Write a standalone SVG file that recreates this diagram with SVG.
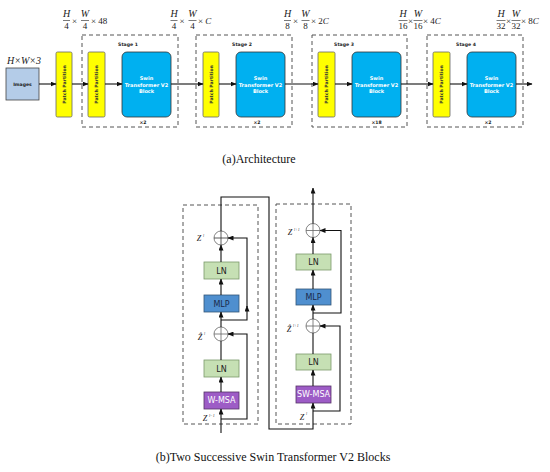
<svg xmlns="http://www.w3.org/2000/svg" width="550" height="472" viewBox="0 0 550 472">
<defs>
<marker id="ah" markerWidth="6" markerHeight="5" refX="5.5" refY="2.5" orient="auto" markerUnits="userSpaceOnUse">
<path d="M0,0 L6,2.5 L0,5 Z" fill="#111"/>
</marker>
<style>
.dash{fill:none;stroke:#555;stroke-width:1;stroke-dasharray:4,3}
.pp{fill:#ffff00;stroke:#666;stroke-width:0.8}
.sw{fill:#00b0f0;stroke:#333;stroke-width:0.8}
.img{fill:#b4cce8;stroke:#444;stroke-width:0.8}
.ln{fill:#c6e0b4;stroke:#7a9a6a;stroke-width:0.8}
.mlp{fill:#4f8fcf;stroke:#335577;stroke-width:0.8}
.msa{fill:#9d5cc6;stroke:#553366;stroke-width:0.8}
.c{fill:none;stroke:#111;stroke-width:1.1}
.ca{fill:none;stroke:#111;stroke-width:1.1;marker-end:url(#ah)}
.add{fill:#fff;stroke:#666;stroke-width:0.8}
.s{font-family:"DejaVu Sans",sans-serif;font-weight:bold;font-size:4.6px;fill:#222;text-anchor:middle}
.sw-t{font-family:"DejaVu Sans",sans-serif;font-weight:bold;font-size:5px;fill:#fff;text-anchor:middle}
.pp-t{font-family:"DejaVu Sans",sans-serif;font-weight:bold;font-size:4.6px;fill:#333;text-anchor:middle}
.m{font-family:"Liberation Serif",serif;font-style:italic;font-size:10px;fill:#222;text-anchor:middle}
.n{font-family:"Liberation Serif",serif;font-size:9px;fill:#222;text-anchor:middle}
.nl{font-family:"Liberation Serif",serif;font-size:9px;fill:#222}
.b{font-family:"DejaVu Sans",sans-serif;font-size:8px;text-anchor:middle}
.z{font-family:"Liberation Serif","DejaVu Serif",serif;font-style:italic;font-size:8px;fill:#222;text-anchor:middle}
.zs{font-family:"Liberation Serif",serif;font-style:italic;font-size:4px;fill:#333}
.cap{font-family:"Liberation Serif",serif;font-size:12px;fill:#111;text-anchor:middle}
.fl{stroke:#222;stroke-width:0.6}
</style>
</defs>
<rect width="550" height="472" fill="#fff"/>

<!-- Part (a) -->
<g id="dim-input">
<text x="24" y="64" class="m" font-size="11">H×W×3</text>
</g>
<g id="images"><rect x="6" y="68" width="33" height="32" class="img"/><text x="22.5" y="86" class="s" fill="#222">Images</text></g>
<g id="pp0"><rect x="56" y="52" width="16" height="65" rx="1.5" class="pp"/><text transform="translate(65.5,84.5) rotate(-90)" class="pp-t">Patch Partition</text></g>

<g id="dim1">
<text x="66.5" y="17" class="m">H</text><line x1="63" y1="20.5" x2="70" y2="20.5" class="fl"/><text x="66.5" y="29" class="n">4</text>
<text x="74.5" y="24" class="n">×</text>
<text x="85" y="17" class="m">W</text><line x1="81" y1="20.5" x2="89" y2="20.5" class="fl"/><text x="85" y="29" class="n">4</text>
<text x="91" y="24" class="nl">× 48</text>
</g>
<g id="dim2">
<text x="174" y="17" class="m">H</text><line x1="170.5" y1="20.5" x2="177.5" y2="20.5" class="fl"/><text x="174" y="29" class="n">4</text>
<text x="182" y="24" class="n">×</text>
<text x="192.5" y="17" class="m">W</text><line x1="188.5" y1="20.5" x2="196.5" y2="20.5" class="fl"/><text x="192.5" y="29" class="n">4</text>
<text x="198" y="24" class="nl">× <tspan font-style="italic">C</tspan></text>
</g>
<g id="dim3">
<text x="287.5" y="17" class="m">H</text><line x1="284" y1="20.5" x2="291" y2="20.5" class="fl"/><text x="287.5" y="29" class="n">8</text>
<text x="295.5" y="24" class="n">×</text>
<text x="305.5" y="17" class="m">W</text><line x1="301.5" y1="20.5" x2="309.5" y2="20.5" class="fl"/><text x="305.5" y="29" class="n">8</text>
<text x="311" y="24" class="nl">× 2<tspan font-style="italic">C</tspan></text>
</g>
<g id="dim4">
<text x="403" y="17" class="m">H</text><line x1="398.5" y1="20.5" x2="407.5" y2="20.5" class="fl"/><text x="403" y="29" class="n">16</text>
<text x="410.5" y="24" class="n">×</text>
<text x="418" y="17" class="m">W</text><line x1="413.5" y1="20.5" x2="422.5" y2="20.5" class="fl"/><text x="418" y="29" class="n">16</text>
<text x="423" y="24" class="nl">× 4<tspan font-style="italic">C</tspan></text>
</g>
<g id="dim5">
<text x="501" y="17" class="m">H</text><line x1="496.5" y1="20.5" x2="505.5" y2="20.5" class="fl"/><text x="501" y="29" class="n">32</text>
<text x="508.5" y="24" class="n">×</text>
<text x="516" y="17" class="m">W</text><line x1="511.5" y1="20.5" x2="520.5" y2="20.5" class="fl"/><text x="516" y="29" class="n">32</text>
<text x="521" y="24" class="nl">× 8<tspan font-style="italic">C</tspan></text>
</g>

<g id="stage1">
<rect x="82" y="35" width="96" height="92" class="dash"/>
<text x="128" y="45.5" class="s">Stage 1</text>
<rect x="88" y="52" width="17" height="65" rx="1.5" class="pp"/><text transform="translate(98,84.5) rotate(-90)" class="pp-t">Patch Partition</text>
<rect x="122" y="52" width="49" height="65" rx="5" class="sw"/>
<text x="146.5" y="80" class="sw-t">Swin</text><text x="146.5" y="86.5" class="sw-t">Transformer V2</text><text x="146.5" y="93" class="sw-t">Block</text>
<text x="143" y="124" class="s">×2</text>
</g>
<g id="stage2">
<rect x="196" y="35" width="96" height="92" class="dash"/>
<text x="242" y="45.5" class="s">Stage 2</text>
<rect x="203" y="52" width="16" height="65" rx="1.5" class="pp"/><text transform="translate(212.5,84.5) rotate(-90)" class="pp-t">Patch Partition</text>
<rect x="236" y="52" width="49" height="65" rx="5" class="sw"/>
<text x="260.5" y="80" class="sw-t">Swin</text><text x="260.5" y="86.5" class="sw-t">Transformer V2</text><text x="260.5" y="93" class="sw-t">Block</text>
<text x="257" y="124" class="s">×2</text>
</g>
<g id="stage3">
<rect x="312" y="35" width="95" height="92" class="dash"/>
<text x="344" y="45.5" class="s">Stage 3</text>
<rect x="318" y="52" width="17" height="65" rx="1.5" class="pp"/><text transform="translate(328,84.5) rotate(-90)" class="pp-t">Patch Partition</text>
<rect x="352" y="52" width="49" height="65" rx="5" class="sw"/>
<text x="376.5" y="80" class="sw-t">Swin</text><text x="376.5" y="86.5" class="sw-t">Transformer V2</text><text x="376.5" y="93" class="sw-t">Block</text>
<text x="376.5" y="124" class="s">×18</text>
</g>
<g id="stage4">
<rect x="427" y="35" width="96" height="92" class="dash"/>
<text x="466" y="45.5" class="s">Stage 4</text>
<rect x="433" y="52" width="17" height="65" rx="1.5" class="pp"/><text transform="translate(443,84.5) rotate(-90)" class="pp-t">Patch Partition</text>
<rect x="467" y="52" width="49" height="65" rx="5" class="sw"/>
<text x="491.5" y="80" class="sw-t">Swin</text><text x="491.5" y="86.5" class="sw-t">Transformer V2</text><text x="491.5" y="93" class="sw-t">Block</text>
<text x="488" y="124" class="s">×2</text>
</g>

<g id="connectors-a">
<path d="M39,84 H56" class="ca"/>
<path d="M72,84 H88" class="ca"/>
<path d="M105,84 H122" class="ca"/>
<path d="M171,84 H203" class="ca"/>
<path d="M219,84 H236" class="ca"/>
<path d="M285,84 H318" class="ca"/>
<path d="M335,84 H352" class="ca"/>
<path d="M401,84 H433" class="ca"/>
<path d="M450,84 H467" class="ca"/>
<path d="M516,84 H532" class="ca"/>
</g>

<text x="259" y="163" class="cap">(a)Architecture</text>

<!-- Part (b) -->
<g id="block-left">
<rect x="183" y="205" width="75" height="219" class="dash"/>
<rect x="204" y="392" width="35" height="17" class="msa"/><text x="221.5" y="403" class="b" font-size="6.5" fill="#fff">W-MSA</text>
<rect x="204" y="360" width="35" height="17" class="ln"/><text x="221.5" y="371.5" class="b" fill="#222">LN</text>
<rect x="204" y="295" width="35" height="17" class="mlp"/><text x="221.5" y="306.5" class="b" fill="#1a2a4a">MLP</text>
<rect x="204" y="262" width="35" height="17" class="ln"/><text x="221.5" y="273.5" class="b" fill="#222">LN</text>
</g>
<g id="adder-l1"><circle cx="221" cy="334" r="7" class="add"/><path d="M214,334 H228 M221,327 V341" stroke="#666" stroke-width="0.8"/></g>
<g id="adder-l2"><circle cx="221" cy="238" r="7" class="add"/><path d="M214,238 H228 M221,231 V245" stroke="#333" stroke-width="0.8"/></g>

<g id="block-right">
<rect x="276" y="204" width="75" height="220" class="dash"/>
<rect x="296" y="386" width="35" height="17" class="msa"/><text x="313.5" y="397" class="b" font-size="6.5" fill="#fff">SW-MSA</text>
<rect x="296" y="354" width="35" height="16" class="ln"/><text x="313.5" y="365" class="b" fill="#222">LN</text>
<rect x="296" y="289" width="35" height="16" class="mlp"/><text x="313.5" y="300" class="b" fill="#1a2a4a">MLP</text>
<rect x="296" y="254" width="35" height="16" class="ln"/><text x="313.5" y="265" class="b" fill="#222">LN</text>
</g>
<g id="adder-r1"><circle cx="313" cy="326" r="7" class="add"/><path d="M306,326 H320 M313,319 V333" stroke="#666" stroke-width="0.8"/></g>
<g id="adder-r2"><circle cx="313" cy="230.5" r="7" class="add"/><path d="M306,230.5 H320 M313,223.5 V237.5" stroke="#666" stroke-width="0.8"/></g>

<g id="z-labels">
<text x="205" y="421" class="z">Z</text><text x="209" y="417" class="zs">l−1</text>
<text x="200" y="340" class="z">Ẑ</text><text x="204" y="335" class="zs">l</text>
<text x="199" y="241" class="z">Z</text><text x="203" y="237" class="zs">l</text>
<text x="302" y="420" class="z">Z</text><text x="306" y="415" class="zs">l</text>
<text x="289" y="332" class="z">Ẑ</text><text x="293" y="327" class="zs">l+1</text>
<text x="290" y="235" class="z">Z</text><text x="294" y="231" class="zs">l+1</text>
</g>

<g id="connectors-b">
<path d="M221,433 V409" class="ca"/>
<path d="M221,419 H247 V334 H228" class="ca"/>
<path d="M221,392 V377" class="ca"/>
<path d="M221,360 V341" class="c"/>
<path d="M221,327 V312" class="ca"/>
<path d="M221,320 H247 V306" class="ca"/>
<path d="M247,307 V238 H228" class="ca"/>
<path d="M221,295 V279" class="ca"/>
<path d="M221,262 V245" class="ca"/>
<path d="M221,231 V197 H269 V429 H313 V403" class="ca"/>
<path d="M313,411 H340 V326 H320" class="ca"/>
<path d="M313,386 V370" class="ca"/>
<path d="M313,354 V333" class="c"/>
<path d="M313,319 V305" class="ca"/>
<path d="M313,313 H341 V230.5 H320" class="ca"/>
<path d="M313,289 V270" class="ca"/>
<path d="M313,254 V237.5" class="ca"/>
<path d="M313,223.5 V188" class="ca"/>
</g>

<text x="273" y="461" class="cap">(b)Two Successive Swin Transformer V2 Blocks</text>
</svg>
